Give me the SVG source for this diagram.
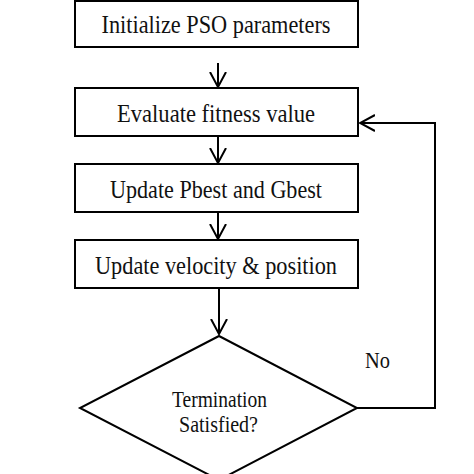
<svg xmlns="http://www.w3.org/2000/svg" width="474" height="474" viewBox="0 0 474 474">
<style>
.box{fill:#fff;stroke:#000;stroke-width:2}
.ln{fill:none;stroke:#000;stroke-width:2}
.t{font-family:"Liberation Serif","Times New Roman",serif;font-size:26px;fill:#111;text-anchor:middle}
.d{font-family:"Liberation Serif","Times New Roman",serif;font-size:24px;fill:#111;text-anchor:middle}
</style>
<defs>
<marker id="ah" viewBox="0 0 16 18" refX="15" refY="9" markerWidth="16" markerHeight="18" markerUnits="userSpaceOnUse" orient="auto">
<path d="M0,1 L15,9 L0,17" fill="none" stroke="#000" stroke-width="2"/>
</marker>
</defs>
<rect width="474" height="474" fill="#fff"/>
<g id="connectors">
<line class="ln" x1="218" y1="63" x2="218" y2="87" marker-end="url(#ah)"/>
<line class="ln" x1="218" y1="136" x2="218" y2="163" marker-end="url(#ah)"/>
<line class="ln" x1="218" y1="212" x2="218" y2="239" marker-end="url(#ah)"/>
<line class="ln" x1="219" y1="288" x2="219" y2="334" marker-end="url(#ah)"/>
<polyline class="ln" points="357,408 435,408 435,123 360,123" marker-end="url(#ah)"/>
<text class="d" x="377.5" y="368" textLength="25" lengthAdjust="spacingAndGlyphs">No</text>
</g>
<g id="init">
<rect class="box" x="75" y="1" width="283" height="46"/>
<text class="t" x="216" y="33" textLength="229" lengthAdjust="spacingAndGlyphs">Initialize PSO parameters</text>
</g>
<g id="evaluate">
<rect class="box" x="75" y="88" width="283" height="48"/>
<text class="t" x="216" y="122" textLength="198" lengthAdjust="spacingAndGlyphs">Evaluate fitness value</text>
</g>
<g id="update-best">
<rect class="box" x="75" y="164" width="283" height="48"/>
<text class="t" x="216" y="198" textLength="212" lengthAdjust="spacingAndGlyphs">Update Pbest and Gbest</text>
</g>
<g id="update-vel">
<rect class="box" x="75" y="240" width="283" height="48"/>
<text class="t" x="216" y="274" textLength="242" lengthAdjust="spacingAndGlyphs">Update velocity &amp; position</text>
</g>
<g id="termination">
<polygon class="box" points="219,336 357,408 219,480 80,408"/>
<text class="d" x="219.5" y="407" textLength="95" lengthAdjust="spacingAndGlyphs">Termination</text>
<text class="d" x="218.5" y="432" textLength="79" lengthAdjust="spacingAndGlyphs">Satisfied?</text>
</g>
</svg>
